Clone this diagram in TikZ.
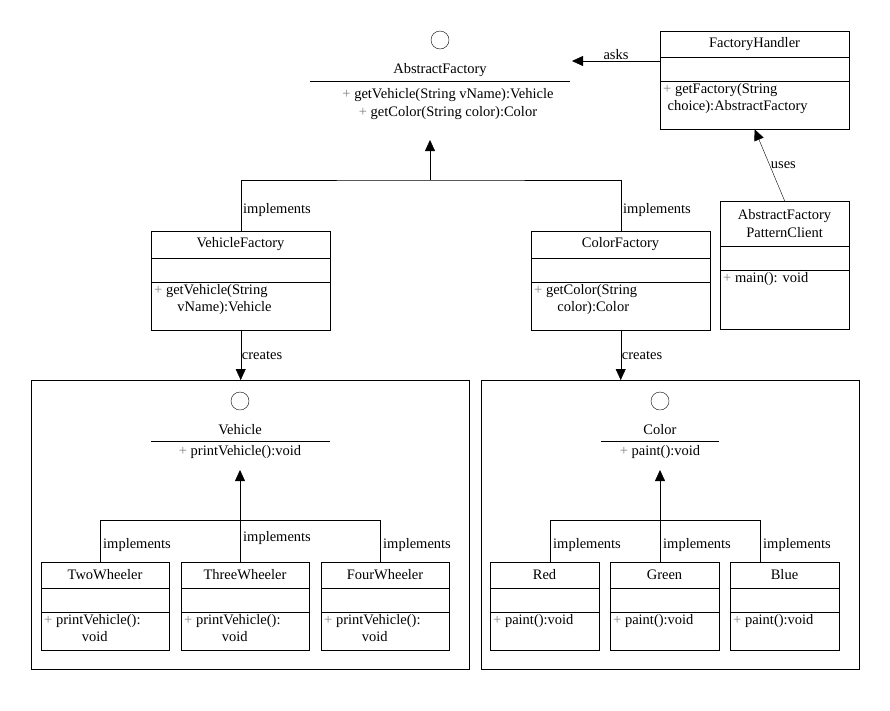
\documentclass[tikz,border=0pt]{standalone}
\usepackage{fontspec}
\setmainfont{Liberation Serif}
\usetikzlibrary{calc,positioning,arrows.meta}
\tikzset{
    every node/.style={font=\fontsize{14.5}{17.5}\selectfont, inner sep=1pt},
    cbox/.style={draw, thin, fill=white, inner sep=0pt},
    pkg/.style={draw, thin, inner sep=0pt},
    iface/.style={draw, circle, minimum size=18pt, inner sep=0pt},
    >={Triangle[length=11pt,width=10pt]},
    arr/.style={thin,->},
    lbl/.style={anchor=west},
}
\newcommand{\pl}{\textcolor{gray}{+}}
% name, left, top, width, height, title height, title, methods
\newcommand{\classbox}[8]{%
    \node[cbox, minimum width=#4pt, minimum height=#5pt, anchor=north west] (#1) at (#2,#3) {};
    \node[align=center] (#1-t) at ({#2+#4/2},{#3+#6/2}) {#7};
    \draw ({#2},{#3+#6}) -- ++(#4,0);
    \draw ({#2},{#3+#6+24}) -- ++(#4,0);
    \node[anchor=north west, align=left] (#1-m) at ({#2+2},{#3+#6+25}) {#8};
}
\begin{document}
\begin{tikzpicture}[x=1pt,y=-1pt]
    \useasboundingbox (0,0) rectangle (890,710);

    % abstract factory interface
    \node[iface] (afi) at (440,40) {};
    \node (af-t) at (440,70) {AbstractFactory};
    \draw (310,81) -- (570,81);
    \node[align=center] (af-m) at (448,104) {\pl{} getVehicle(String vName):Vehicle\\\pl{} getColor(String color):Color};
    \coordinate (afbot) at (430,140);
    \coordinate (afhub) at (430,180);
    \coordinate (afhead) at (572,61);

    % classes
    \classbox{fh}{660}{31}{189}{98}{26}{FactoryHandler}{\pl{} getFactory(String\\\hspace{0.3em}choice):AbstractFactory}
    \classbox{cl}{720}{201}{129}{128}{45}{AbstractFactory\\PatternClient}{\pl{} main(): void}
    \classbox{vf}{151}{231}{179}{99}{27}{VehicleFactory}{\pl{} getVehicle(String\\\hspace{1.6em}vName):Vehicle}
    \classbox{cf}{531}{231}{179}{99}{27}{ColorFactory}{\pl{} getColor(String\\\hspace{1.6em}color):Color}

    \draw[arr] (fh.west |- 0,61) -- (afhead) node[pos=0.5, above] {asks};
    \draw[arr] (cl.north) -- (fh.south) node[pos=0.5, lbl] {uses};
    \draw (vf.north) |- (afhub) -| (cf.north);
    \draw[arr] (afhub) -- (afbot);
    \node[lbl] (imp-vf) at (242,210) {implements};
    \node[lbl] (imp-cf) at (622,210) {implements};

    % packages
    \node[pkg, minimum width=438pt, minimum height=289pt, anchor=north west] (vpkg) at (31,380) {};
    \node[pkg, minimum width=378pt, minimum height=289pt, anchor=north west] (cpkg) at (481,380) {};
    \draw[arr] (vf.south) -- (vf.south |- vpkg.north) node[pos=0.5, lbl] {creates};
    \draw[arr] (cf.south) -- (cf.south |- cpkg.north) node[pos=0.5, lbl] {creates};

    % vehicle
    \node[iface] (vi) at (240,401) {};
    \node (vi-t) at (240,430) {Vehicle};
    \draw (151,441) -- (330,441);
    \node (vi-m) at (240,452) {\pl{} printVehicle():void};
    \coordinate (vbot) at (240,470);
    \coordinate (vhub) at (240,520);
    \classbox{tw}{41}{562}{128}{88}{26}{TwoWheeler}{\pl{} printVehicle():\\\hspace{2.6em}void}
    \classbox{thw}{181}{562}{128}{88}{26}{ThreeWheeler}{\pl{} printVehicle():\\\hspace{2.6em}void}
    \classbox{fw}{321}{562}{128}{88}{26}{FourWheeler}{\pl{} printVehicle():\\\hspace{2.6em}void}
    \draw (tw.north -| 100,0) |- (vhub) -| (fw.north -| 380,0);
    \draw[arr] (thw.north -| vhub) -- (vbot);
    \node[lbl] at (102,545) {implements};
    \node[lbl] at (242,538) {implements};
    \node[lbl] at (382,545) {implements};

    % color
    \node[iface] (ci) at (660,401) {};
    \node (ci-t) at (660,430) {Color};
    \draw (601,441) -- (719,441);
    \node (ci-m) at (660,452) {\pl{} paint():void};
    \coordinate (cbot) at (660,470);
    \coordinate (chub) at (660,520);
    \classbox{red}{490}{562}{109}{88}{26}{Red}{\pl{} paint():void}
    \classbox{grn}{610}{562}{109}{88}{26}{Green}{\pl{} paint():void}
    \classbox{blu}{730}{562}{109}{88}{26}{Blue}{\pl{} paint():void}
    \draw (red.north -| 550,0) |- (chub) -| (blu.north -| 760,0);
    \draw (grn.north -| chub) -- (chub);
    \draw[arr] (chub) -- (cbot);
    \node[lbl] at (552,545) {implements};
    \node[lbl] at (662,545) {implements};
    \node[lbl] at (762,545) {implements};
\end{tikzpicture}
\end{document}
